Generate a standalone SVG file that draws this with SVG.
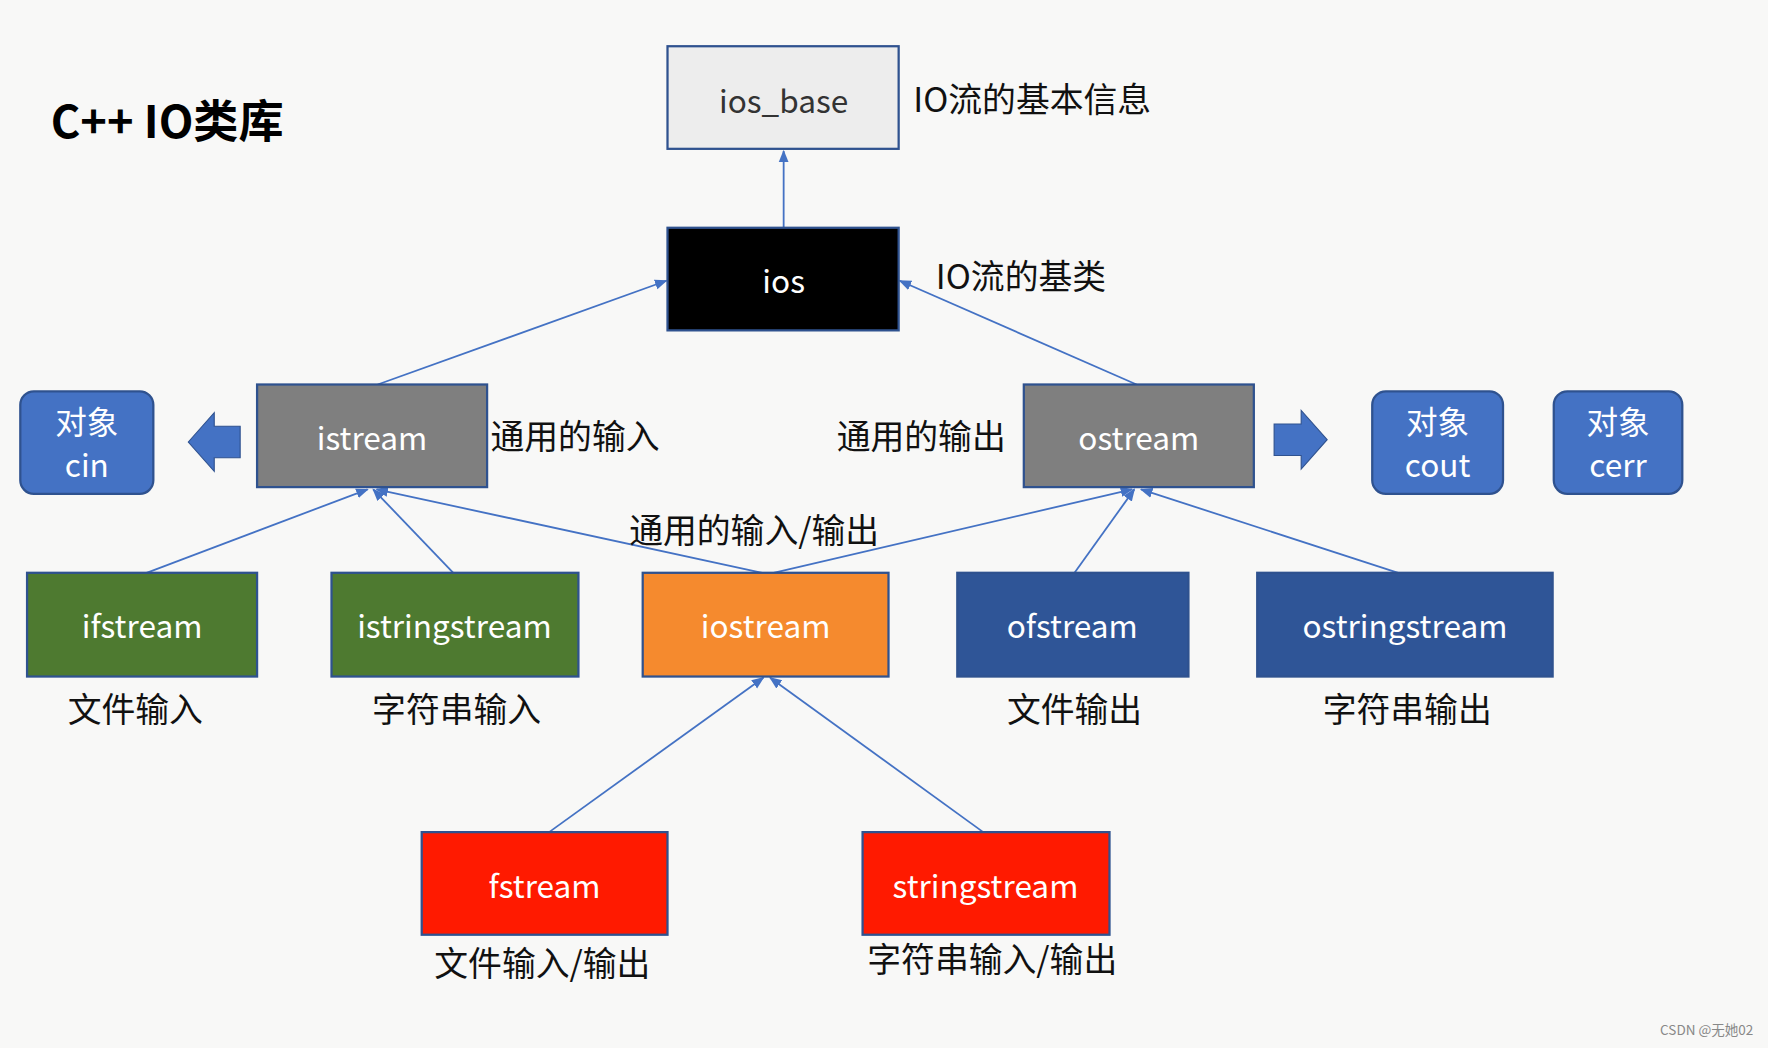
<svg xmlns="http://www.w3.org/2000/svg" width="1768" height="1048" viewBox="0 0 1768 1048">
<style>
.t{font-family:"Microsoft YaHei","Noto Sans CJK SC",sans-serif;font-size:28px;text-anchor:middle}
.w{fill:#fff}
.l{font-family:"Noto Sans CJK SC",sans-serif;font-size:30px;fill:#111}
.c{stroke:#4472c4;stroke-width:1.6;fill:none;marker-end:url(#a)}
.b{stroke:#2f528f;stroke-width:2}
</style>
<defs><marker id="a" viewBox="0 0 10 10" refX="9" refY="5" markerWidth="7" markerHeight="7" orient="auto"><path d="M0,1 L10,5 L0,9 Z" fill="#4472c4"/></marker></defs>
<rect width="1768" height="1048" fill="#f8f8f7"/>
<g transform="scale(1.12755)">
<text x="45" y="122" font-family="Noto Sans CJK SC,sans-serif" font-size="40" font-weight="bold" fill="#000">C++ IO类库</text>
<g id="connectors">
<line class="c" x1="695" y1="202" x2="695" y2="134"/>
<line class="c" x1="335" y1="341" x2="591" y2="249"/>
<line class="c" x1="1008" y1="341" x2="798" y2="249"/>
<line class="c" x1="130" y1="508" x2="326" y2="434"/>
<line class="c" x1="402" y1="508" x2="331" y2="434"/>
<line class="c" x1="676" y1="508" x2="334" y2="434"/>
<line class="c" x1="686" y1="508" x2="1004" y2="434"/>
<line class="c" x1="953" y1="508" x2="1006" y2="434"/>
<line class="c" x1="1240" y1="508" x2="1012" y2="434"/>
<line class="c" x1="487" y1="738" x2="677" y2="601"/>
<line class="c" x1="872" y1="738" x2="683" y2="601"/>
</g>
<g id="ios_base"><rect class="b" x="592" y="41" width="205" height="91" fill="#ededed"/><text class="t" x="695" y="100" fill="#333">ios_base</text></g>
<text class="l" x="810" y="99">IO流的基本信息</text>
<g id="ios"><rect class="b" x="592" y="202" width="205" height="91" fill="#000"/><text class="t w" x="695" y="260">ios</text></g>
<text class="l" x="830" y="256">IO流的基类</text>
<g id="istream"><rect class="b" x="228" y="341" width="204" height="91" fill="#7f7f7f"/><text class="t w" x="330" y="399">istream</text></g>
<text class="l" x="435" y="398">通用的输入</text>
<g id="ostream"><rect class="b" x="908" y="341" width="204" height="91" fill="#7f7f7f"/><text class="t w" x="1010" y="399">ostream</text></g>
<text class="l" x="742" y="398">通用的输出</text>
<g id="cin"><rect class="b" x="18" y="347" width="118" height="91" rx="12" fill="#4472c4"/><text class="t w" x="77" y="385">对象</text><text class="t w" x="77" y="423">cin</text></g>
<g id="cout"><rect class="b" x="1217" y="347" width="116" height="91" rx="12" fill="#4472c4"/><text class="t w" x="1275" y="385">对象</text><text class="t w" x="1275" y="423">cout</text></g>
<g id="cerr"><rect class="b" x="1378" y="347" width="114" height="91" rx="12" fill="#4472c4"/><text class="t w" x="1435" y="385">对象</text><text class="t w" x="1435" y="423">cerr</text></g>
<path d="M167,392 L190,366 L190,378 L213,378 L213,406 L190,406 L190,418 Z" fill="#4472c4" stroke="#2f528f"/>
<path d="M1177,390 L1154,364 L1154,376 L1130,376 L1130,404 L1154,404 L1154,416 Z" fill="#4472c4" stroke="#2f528f"/>
<g id="ifstream"><rect class="b" x="24" y="508" width="204" height="92" fill="#4e7a30"/><text class="t w" x="126" y="566">ifstream</text></g>
<g id="istringstream"><rect class="b" x="294" y="508" width="219" height="92" fill="#4e7a30"/><text class="t w" x="403" y="566">istringstream</text></g>
<g id="iostream"><rect class="b" x="570" y="508" width="218" height="92" fill="#f58a2e"/><text class="t w" x="679" y="566">iostream</text></g>
<g id="ofstream"><rect class="b" x="849" y="508" width="205" height="92" fill="#2f5597"/><text class="t w" x="951" y="566">ofstream</text></g>
<g id="ostringstream"><rect class="b" x="1115" y="508" width="262" height="92" fill="#2f5597"/><text class="t w" x="1246" y="566">ostringstream</text></g>
<text class="l" x="558" y="482">通用的输入/输出</text>
<text class="l" x="120" y="640" text-anchor="middle">文件输入</text>
<text class="l" x="405" y="640" text-anchor="middle">字符串输入</text>
<text class="l" x="953" y="640" text-anchor="middle">文件输出</text>
<text class="l" x="1248" y="640" text-anchor="middle">字符串输出</text>
<g id="fstream"><rect class="b" x="374" y="738" width="218" height="91" fill="#ff1a00"/><text class="t w" x="483" y="796">fstream</text></g>
<g id="stringstream"><rect class="b" x="765" y="738" width="219" height="91" fill="#ff1a00"/><text class="t w" x="874" y="796">stringstream</text></g>
<text class="l" x="481" y="866" text-anchor="middle">文件输入/输出</text>
<text class="l" x="880" y="862" text-anchor="middle">字符串输入/输出</text>
<text x="1555" y="918" text-anchor="end" font-family="Noto Sans CJK SC,sans-serif" font-size="12" fill="#888">CSDN @无她02</text>
</g>
</svg>
